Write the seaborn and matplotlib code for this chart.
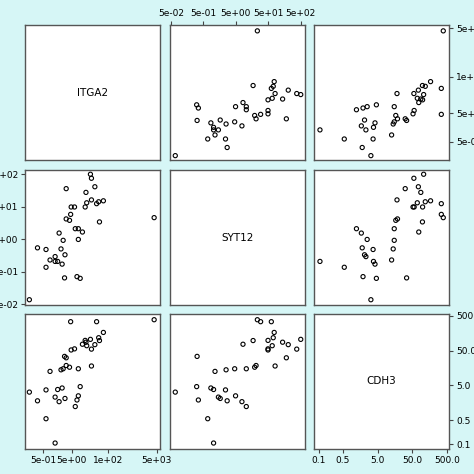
import numpy as np
import pandas as pd
import matplotlib
matplotlib.use("Agg")
import matplotlib.pyplot as plt
import seaborn as sns

names = ["ITGA2", "SYT12", "CDH3"]
itga2 = [0.16, 0.31, 0.62, 0.62, 0.86, 1.3, 1.3, 1.6, 1.8, 2.1, 2.3, 2.5, 2.8, 2.9, 3.2, 3.2, 4.2, 4.6, 4.8,
         6.3, 6.7, 7.7, 8.6, 8.6, 10, 12, 15, 16, 17, 23, 25, 25, 33, 38, 45, 48, 66, 4100]
syt12 = [0.068, 2.7, 2.4, 0.68, 1.14, 1.45, 1.03, 1.03, 7.7, 2.5, 0.85, 4.6, 0.32, 1.65, 180, 21, 19, 29, 49,
         49, 10.5, 0.35, 10.5, 4.9, 0.31, 8.3, 49, 138, 66, 500, 376, 81, 206, 62, 71, 17, 76, 23]
cdh3 = [3.2, 1.8, 3.7, 0.55, 12.6, 2.3, 0.11, 3.8, 1.7, 14, 4.2, 15, 34, 2.1, 31, 18.6, 16.6, 338, 52,
        56, 1.23, 1.9, 15, 2.5, 4.6, 76, 98, 87, 69, 105, 55, 18, 74, 338, 117, 97, 166, 385]

ticks = {
    "ITGA2": ([0.5, 5, 100, 5000], ["5e-01", "5e+00", "1e+02", "5e+03"]),
    "SYT12": ([0.05, 0.5, 5, 50, 500], ["5e-02", "5e-01", "5e+00", "5e+01", "5e+02"]),
    "CDH3": ([0.1, 0.5, 5, 50, 500], ["0.1", "0.5", "5.0", "50.0", "500.0"]),
}
lims = {"ITGA2": (10**-0.95, 10**3.82), "SYT12": (10**-1.33, 10**2.83), "CDH3": (10**-1.13, 10**2.75)}

df = pd.DataFrame({"ITGA2": itga2, "SYT12": syt12, "CDH3": cdh3})

bg = "#d6f6f6"
fig = plt.figure(figsize=(4.74, 4.74), dpi=100, facecolor=bg)
W = 474
xs = [25, 170, 314]
ys = [25, 170, 314]
size = 135
for i, rv in enumerate(names):
    for j, cv in enumerate(names):
        ax = fig.add_axes([xs[j] / W, 1 - (ys[i] + size) / W, size / W, size / W])
        ax.set_facecolor("white")
        for s in ax.spines.values():
            s.set_color("#555555")
            s.set_linewidth(1.0)
        ax.set_xscale("log"); ax.set_yscale("log")
        ax.set_xlim(*lims[cv]); ax.set_ylim(*lims[rv])
        ax.minorticks_off()
        ax.set_xticks(ticks[cv][0]); ax.set_xticklabels(ticks[cv][1])
        ax.set_yticks(ticks[rv][0]); ax.set_yticklabels(ticks[rv][1])
        ax.tick_params(labelsize=6.5, length=3, color="#444444", pad=2,
                       bottom=False, top=False, left=False, right=False,
                       labelbottom=False, labeltop=False, labelleft=False, labelright=False)
        if i == 0 and j % 2 == 1:
            ax.tick_params(top=True, labeltop=True)
        if i == 2 and j % 2 == 0:
            ax.tick_params(bottom=True, labelbottom=True)
        if j == 0 and i % 2 == 1:
            ax.tick_params(left=True, labelleft=True)
        if j == 2 and i % 2 == 0:
            ax.tick_params(right=True, labelright=True)
        if i == j:
            ax.text(0.5, 0.5, rv, transform=ax.transAxes, ha="center", va="center", fontsize=7.5)
        else:
            sns.scatterplot(data=df, x=cv, y=rv, ax=ax, marker="o", s=9,
                            facecolor="none", edgecolor="black", linewidth=0.8)
        ax.set_xlabel(""); ax.set_ylabel("")

fig.savefig("out.png", dpi=100, facecolor=bg)
